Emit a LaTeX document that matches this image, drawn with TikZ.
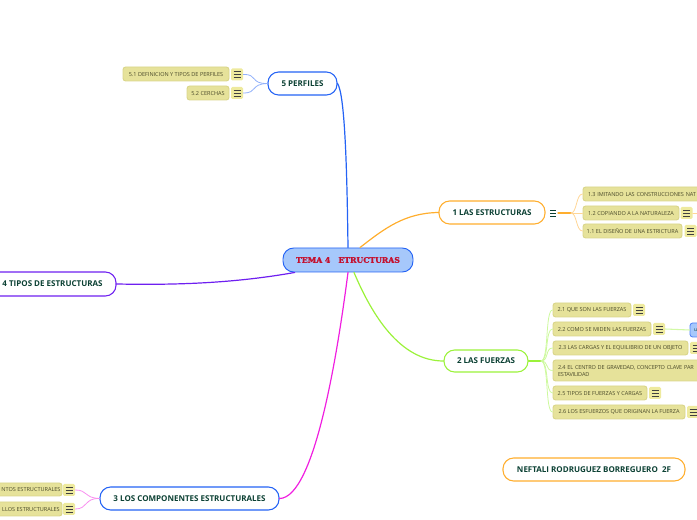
\documentclass[tikz,border=0pt]{standalone}
\usepackage{fontspec}
\setmainfont{Open Sans}
\newfontfamily\titlefont[FakeBold=1.5]{DejaVu Serif}
\definecolor{boxfill}{HTML}{E6E29A}
\definecolor{boxline}{HTML}{D9D58A}
\definecolor{icofill}{HTML}{EEEA9E}
\definecolor{boxtext}{HTML}{4A4A2A}
\definecolor{maintext}{HTML}{0B4033}
\definecolor{cblue}{HTML}{2463F5}
\definecolor{corange}{HTML}{FFAE2E}
\definecolor{cgreen}{HTML}{9BF23A}
\definecolor{cmag}{HTML}{F01FE0}
\definecolor{cpurp}{HTML}{6E1FF0}
\definecolor{titlefill}{HTML}{A6C8FB}
\definecolor{titletext}{HTML}{C4112F}
\newcommand{\tight}{\addfontfeature{LetterSpace=-2.5}}
\newcommand{\wide}{\addfontfeature{LetterSpace=-1.5}}
\tikzset{
  x=0.75pt,y=-0.75pt,
  mainbox/.style={draw=#1,line width=0.8pt,fill=white,rounded corners=8pt,inner sep=0pt,text=maintext,font=\fontsize{6}{7}\selectfont\bfseries},
  subbox/.style={draw=boxline,line width=0.7pt,fill=boxfill,rounded corners=2pt,inner sep=0pt,text=boxtext,text height=3.4pt,font=\fontsize{4.15}{5.6}\selectfont},
  ltext/.style={text width=#1*0.75pt,align=left},
  icobox/.style={fill=icofill,rounded corners=1pt,inner sep=0pt,minimum width=9pt,minimum height=9pt},
  conn/.style={line width=#1,line cap=round},
  conn/.default=0.9pt,
  burger/.pic={\draw[line width=0.45pt,black!75] (-3.5,-3) -- (3.5,-3) (-3.5,0) -- (3.5,0) (-3.5,3) -- (3.5,3);},
}
\newcommand{\bx}[7]{\node[#6,minimum width={(#4-#2)*0.75pt},minimum height={(#5-#3)*0.75pt}] (#1) at ({(#2+#4)/2},{(#3+#5)/2}) {#7};}
\newcommand{\ico}[3]{\node[icobox] (#1) at (#2,#3) {}; \pic at (#1) {burger};}
\begin{document}
\begin{tikzpicture}
\useasboundingbox (0,0) rectangle (697,520);
\clip (0,0) rectangle (697,520);
\bx{title}{283}{248}{413}{272}{draw=cblue,line width=0.7pt,fill=titlefill,rounded corners=8pt,inner sep=0pt,text=titletext,font=\titlefont\fontsize{5.8}{8}\selectfont\bfseries}{TEMA 4\ \ \ ETRUCTURAS}
\bx{perf}{268}{72}{337}{95}{mainbox=cblue}{5 PERFILES}
\bx{est}{439}{201}{545}{224}{mainbox=corange}{1 LAS ESTRUCTURAS}
\bx{fue}{444}{350}{528}{372}{mainbox=cgreen}{2 LAS FUERZAS}
\bx{comp}{100}{487}{279}{510}{mainbox=cblue}{3 LOS COMPONENTES ESTRUCTURALES}
\bx{tipos}{-20}{272}{116}{296}{mainbox=cpurp}{\hspace*{6.75pt}4 TIPOS DE ESTRUCTURAS}
\bx{nef}{503}{458}{685}{481}{mainbox=corange}{NEFTALI RODRUGUEZ BORREGUERO\ \ 2F}
% perfiles
\bx{a}{123}{67}{229}{81}{subbox}{5.1 DEFINICION Y TIPOS DE PERFILES}
\bx{b}{187}{86}{229}{100}{subbox}{5.2 CERCHAS}
\ico{ia}{237}{74.5}
\ico{ib}{237}{93}
% estructuras
\draw[maintext,line width=0.5pt] (550,210) -- (556,210) (550,213) -- (556,213) (550,216) -- (556,216);
\bx{c}{583}{187}{725}{201}{subbox,ltext=132}{\wide 1.3 IMITANDO LAS CONSTRUCCIONES NAT}
\bx{d}{583}{206}{679}{220}{subbox}{1.2 COPIANDO A LA NATURALEZA}
\bx{e}{583}{224}{682}{238}{subbox}{1.1 EL DISEÑO DE UNA ESTRICTURA}
\ico{id}{686.5}{213}
\ico{ie}{690.5}{231}
% fuerzas
\bx{f}{553}{303}{631}{317}{subbox}{2.1 QUE SON LAS FUERZAS}
\bx{g}{553}{322}{651}{336}{subbox}{2.2 COMO SE MIDEN LAS FUERZAS}
\bx{h}{553}{341}{688}{355}{subbox}{2.3 LAS CARGAS Y EL EQUILIBRIO DE UN OBJETO}
\bx{i}{553}{360}{725}{381}{subbox,ltext=162}{\tight 2.4 EL CENTRO DE GRAVEDAD, CONCEPTO CLAVE PAR\\ESTAVILIDAD}
\bx{j}{553}{386}{647}{400}{subbox}{2.5 TIPOS DE FUERZAS Y CARGAS}
\bx{k}{553}{405}{685}{419}{subbox}{2.6 LOS ESFUERZOS QUE ORIGINAN LA FUERZA}
\ico{if}{639}{310}
\ico{ig}{659}{329}
\ico{ih}{696}{348}
\ico{ij}{655}{393}
\ico{ik}{693}{412}
\bx{u}{690}{323}{720}{337}{draw=cblue!80,line width=0.6pt,fill=titlefill,rounded corners=2pt,inner sep=0pt,text=maintext,font=\fontsize{3.8}{5}\selectfont}{\hspace*{-14pt}u}
% componentes
\bx{m}{-20}{483}{62}{496}{subbox}{\hspace*{15pt}NTOS ESTRUCTURALES}
\bx{n}{-20}{502}{62}{516}{subbox}{\hspace*{15pt}LLOS ESTRUCTURALES}
\ico{im}{69}{490}
\ico{in}{69}{509}
% main connectors
\draw[conn,cblue] (title.north) .. controls (347,170) and (345,95) .. (perf.east);
\draw[conn,corange] ([xshift=9pt]title.north) .. controls (385,228) and (405,213) .. (est.west);
\draw[conn,cgreen] ([xshift=4.5pt]title.south) .. controls (372,315) and (400,361) .. (fue.west);
\draw[conn,cmag] (title.south) .. controls (338,350) and (315,498) .. (comp.east);
\draw[conn,cpurp] ([xshift=-40pt]title.south) .. controls (230,284) and (170,285) .. (tipos.east);
% sub connectors
\draw[conn=0.6pt,cblue!50] (perf.west) .. controls (250,84) and (258,74) .. (ia.east);
\draw[conn=0.6pt,cblue!50] (perf.west) .. controls (250,84) and (258,93) .. (ib.east);
\coordinate (ej) at (571,213);
\draw[conn=1pt,corange] (558,213) -- (ej);
\draw[conn=0.6pt,corange!50] (ej) .. controls (577,213) and (576,194) .. (c.west);
\draw[conn=0.6pt,corange!50] (ej) -- (d.west);
\draw[conn=0.6pt,corange!50] (ej) .. controls (577,213) and (576,231) .. (e.west);
\draw[conn=0.6pt,corange!50] (id.east) -- (697,213);
\coordinate (fj) at (541,361);
\draw[conn=1pt,cgreen] (fue.east) -- (fj);
\foreach \q/\yy in {f/310,g/329,h/348,i/370.5,j/393,k/412}{\draw[conn=0.6pt,cgreen!50] (fj) .. controls (549,361) and (545,\yy) .. (\q.west);}
\draw[conn=0.8pt,cgreen!45] (ig.east) -- (u.west);
\draw[conn=0.6pt,cmag!50] (comp.west) .. controls (84,498) and (88,490) .. (im.east);
\draw[conn=0.6pt,cmag!50] (comp.west) .. controls (84,498) and (88,509) .. (in.east);
\end{tikzpicture}
\end{document}
